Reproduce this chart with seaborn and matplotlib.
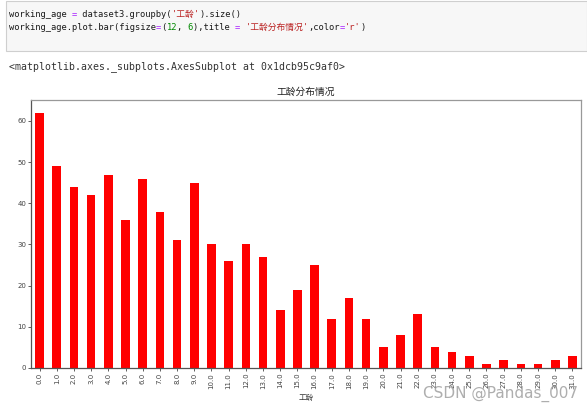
import numpy as np
import pandas as pd
import matplotlib
matplotlib.use("Agg")
import matplotlib.pyplot as plt
import seaborn as sns
from matplotlib.patches import Rectangle

# 工龄 counts
working_years = [float(i) for i in range(32)]
counts = [62, 49, 44, 42, 47, 36, 46, 38, 31, 45, 30, 26, 30, 27, 14, 19,
          25, 12, 17, 12, 5, 8, 13, 5, 4, 3, 1, 2, 1, 1, 2, 3]
tick_labels = [f"{v:.1f}" for v in working_years]

code_line1 = [("working_age ", "k"), ("=", "#AA22FF"), (" dataset3.groupby(", "k"),
              ("'工龄'", "#BA2121"), (").size()", "k")]
code_line2 = [("working_age.plot.bar(figsize", "k"), ("=", "#AA22FF"), ("(", "k"),
              ("12", "#008800"), (", ", "k"), ("6", "#008800"), ("),title ", "k"),
              ("=", "#AA22FF"), (" ", "k"), ("'工龄分布情况'", "#BA2121"),
              (",color", "k"), ("=", "#AA22FF"), ("'r'", "#BA2121"), (")", "k")]
out_repr = "<matplotlib.axes._subplots.AxesSubplot at 0x1dcb95c9af0>"

sns.set_theme(style="white")
mono = ["DejaVu Sans Mono", "Noto Sans CJK SC"]
plt.rcParams["font.family"] = ["DejaVu Sans", "Noto Sans CJK SC"]

W, H = 587, 408
fig = plt.figure(figsize=(W / 100, H / 100), dpi=100)
renderer = fig.canvas.get_renderer()

# notebook code cell
fig.patches.append(Rectangle((6 / W, 1 - 51 / H), (W - 6) / W, 50 / H,
                             transform=fig.transFigure, facecolor="#F7F7F7",
                             edgecolor="#CFCFCF", linewidth=0.8))


def draw_pieces(pieces, x_px, y_px, size):
    x = x_px
    for txt, col in pieces:
        t = fig.text(x / W, 1 - y_px / H, txt, color=col, fontsize=size,
                     family=mono, va="baseline", ha="left")
        x += t.get_window_extent(renderer).width


draw_pieces(code_line1, 9, 17, 6.3)
draw_pieces(code_line2, 9, 30, 6.3)
fig.text(9 / W, 1 - 69 / H, out_repr, color="#333333", fontsize=7.1,
         family=mono, va="baseline")

# bar chart
ax = fig.add_axes([31 / W, 1 - 368 / H, 550 / W, 268 / H])
sns.barplot(x=tick_labels, y=counts, color="red", saturation=1, width=0.5,
            edgecolor="none", ax=ax)
ax.set_xlim(-0.5, len(counts) - 0.5)
ax.set_ylim(0, max(counts) * 1.05)
ax.set_yticks(range(0, 61, 10))
ax.set_title("工龄分布情况", fontsize=7, pad=4, color="#222222")
ax.set_xlabel("工龄", fontsize=5.5, labelpad=3, color="#333333")
ax.set_ylabel("")
ax.tick_params(axis="x", labelrotation=90, labelsize=5, length=2, width=0.6,
               pad=1.5, colors="#444444", bottom=True)
ax.tick_params(axis="y", labelsize=5, length=2, width=0.6, pad=1.5,
               colors="#444444", left=True)
for name, side in ax.spines.items():
    side.set_color("#555555" if name in ("left", "bottom") else "#999999")
    side.set_linewidth(0.9)

fig.text(578 / W, 1 - 398 / H, "CSDN @Pandas_007", color="#a0a0a0",
         fontsize=11, ha="right", va="baseline", alpha=0.85)

fig.savefig("out.png", dpi=100)
